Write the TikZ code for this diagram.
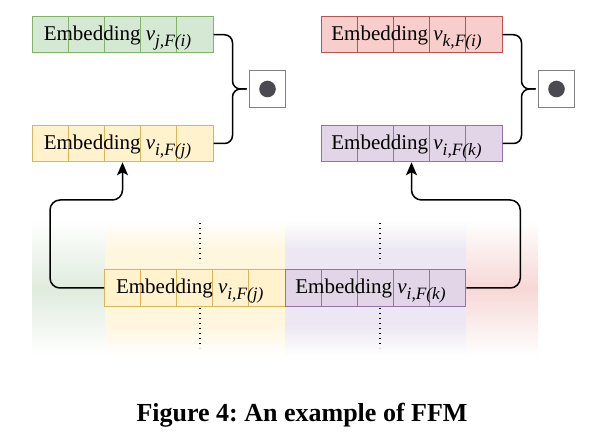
\documentclass[tikz,border=0pt]{standalone}
\usepackage{fontspec}
\setmainfont{Liberation Serif}
\usetikzlibrary{calc,arrows.meta}
\definecolor{gborder}{HTML}{82B366}\definecolor{gfill}{HTML}{D5E8D4}
\definecolor{yborder}{HTML}{D6B656}\definecolor{yfill}{HTML}{FFF2CC}
\definecolor{rborder}{HTML}{B85450}\definecolor{rfill}{HTML}{F8CECC}
\definecolor{pborder}{HTML}{9673A6}\definecolor{pfill}{HTML}{E1D5E7}
\definecolor{gbg}{HTML}{E0ECDE}\definecolor{ybg}{HTML}{FFF6DE}
\definecolor{pbg}{HTML}{ECE7F2}\definecolor{rbg}{HTML}{F6D8D6}
\definecolor{dotc}{HTML}{4A4A50}\definecolor{dotborder}{HTML}{808080}
\tikzset{
  emb/.style n args={2}{draw=#1, fill=#2, line width=1pt, minimum width=181pt,
    minimum height=36.5pt, inner sep=0pt, text height=24pt, text depth=12.5pt,
    font=\fontsize{21}{24}\selectfont,
    path picture={\foreach \k in {1,2,3,4}{\draw[#1, line width=1pt]
      ($(path picture bounding box.north west)!\k/5!(path picture bounding box.north east)$) --
      ($(path picture bounding box.south west)!\k/5!(path picture bounding box.south east)$);}}},
  dotbox/.style={draw=dotborder, fill=white, line width=1.3pt, minimum size=36.5pt, inner sep=0pt},
  conn/.style={draw=black, line width=1.5pt, rounded corners=10pt},
  arr/.style={conn, -{Stealth[length=13pt,width=11pt,inset=3pt]}},
  bracepath/.style={draw=black, line width=1.5pt, rounded corners=8pt},
  dots/.style={draw=black, line width=1.3pt, dash pattern=on 1.4pt off 3.6pt}
}
\newcommand{\embtext}[1]{Embedding \textit{v}\raisebox{-6pt}{\fontsize{17.3}{20}\selectfont\textit{#1}}\hspace*{10pt}}
\begin{document}
\begin{tikzpicture}[x=1pt,y=-1pt]
\useasboundingbox (0,0) rectangle (592,446);
% background columns
\shade[top color=white, bottom color=white, middle color=gbg] (32,220) rectangle (105,356);
\shade[top color=white, bottom color=white, middle color=rbg] (466,220) rectangle (538,356);
\shade[top color=white, bottom color=ybg] (105,220) rectangle (285,250);
\fill[ybg] (105,249.5) rectangle (285,325.5);
\shade[top color=ybg, bottom color=white] (105,325) rectangle (285,356);
\shade[top color=white, bottom color=pbg] (285,220) rectangle (466,250);
\fill[pbg] (285,249.5) rectangle (466,325.5);
\shade[top color=pbg, bottom color=white] (285,325) rectangle (466,356);
% dotted lines
\draw[dots] (200,223) -- (200,263);
\draw[dots] (200,308) -- (200,348);
\draw[dots] (380,223) -- (380,263);
\draw[dots] (380,308) -- (380,348);
% top boxes
\node[emb={gborder}{gfill}] (gtop) at (122.5,34.75) {\embtext{j,F(i)}};
\node[emb={yborder}{yfill}] (ytop) at (122.5,143.5) {\embtext{i,F(j)}};
\node[emb={rborder}{rfill}] (rtop) at (411.5,34.75) {\embtext{k,F(i)}};
\node[emb={pborder}{pfill}] (ptop) at (411.5,143.5) {\embtext{i,F(k)}};
% bottom boxes
\node[emb={yborder}{yfill}, minimum width=180.5pt] (yb) at (194.75,288) {\embtext{i,F(j)}};
\node[emb={pborder}{pfill}, minimum width=180.5pt] (pb) at (375.5,288) {\embtext{i,F(k)}};
% dot-product boxes
\node[dotbox] (dot1) at (267.5,89) {};
\fill[dotc] (dot1.center) circle (8.3);
\node[dotbox] (dot2) at (556.5,89) {};
\fill[dotc] (dot2.center) circle (8.3);
% braces
\coordinate (sp1) at ($(gtop.east)+(19,0)$);
\coordinate (tip1) at ($(dot1.west)+(-2,0)$);
\draw[bracepath] (gtop.east) -- (sp1) -- (sp1 |- dot1.west) -- (tip1);
\draw[bracepath] (ytop.east) -- (sp1 |- ytop.east) -- (sp1 |- dot1.west) -- (tip1);
\coordinate (sp2) at ($(rtop.east)+(19,0)$);
\coordinate (tip2) at ($(dot2.west)+(-2,0)$);
\draw[bracepath] (rtop.east) -- (sp2) -- (sp2 |- dot2.west) -- (tip2);
\draw[bracepath] (ptop.east) -- (sp2 |- ptop.east) -- (sp2 |- dot2.west) -- (tip2);
% arrows
\draw[arr] (yb.west) -- ++(-54,0) -- ++(0,-88) -| (ytop.south);
\draw[arr] (pb.east) -- ++(54,0) -- ++(0,-88) -| (ptop.south);
% caption
\node[font=\bfseries\fontsize{26}{30}\selectfont, anchor=base] (cap) at (302,421) {Figure 4:\ An example of FFM};
\end{tikzpicture}
\end{document}
